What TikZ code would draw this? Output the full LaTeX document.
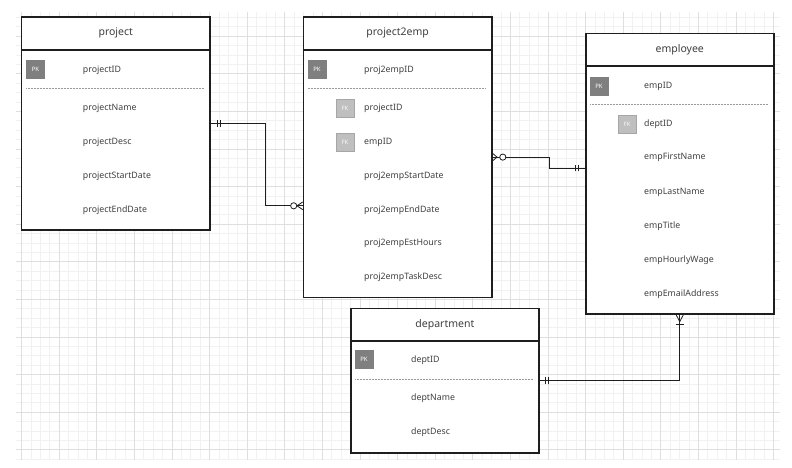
\documentclass[tikz,border=0pt]{standalone}
\usepackage{fontspec}
\setmainfont{Noto Sans}
\definecolor{txt}{HTML}{404040}
\definecolor{pkgray}{HTML}{7F7F7F}
\definecolor{fkgray}{HTML}{BFBFBF}
\definecolor{fkborder}{HTML}{A6A6A6}
\definecolor{gridminor}{HTML}{F1F1F1}
\definecolor{gridmajor}{HTML}{DFDFDF}
\definecolor{edge}{HTML}{1E1E1E}
\begin{document}
\begin{tikzpicture}[x=1pt,y=-1pt,
  tbl/.style={draw=edge, line width=1.5pt, fill=white, inner sep=0pt, anchor=north west},
  ttl/.style={font=\fontsize{10.5}{12}\selectfont, text=txt, inner sep=0pt},
  fld/.style={font=\fontsize{8.8}{10}\selectfont, text=txt, anchor=west, inner sep=0pt},
  pkbox/.style={fill=pkgray, minimum size=19pt, inner sep=0pt, text=white, font=\fontsize{6}{7}\selectfont\bfseries},
  fkbox/.style={fill=fkgray, draw=fkborder, line width=0.6pt, minimum size=18.4pt, inner sep=0pt, text=white!90!fkgray, font=\fontsize{6}{7}\selectfont\bfseries},
  hsep/.style={draw=edge, line width=1.5pt},
  dsep/.style={draw=gray!80, line width=0.5pt, densely dotted},
  conn/.style={draw=edge, line width=0.8pt},
  endmark/.style={draw=edge, line width=0.8pt},
  minorgrid/.style={draw=gridminor, line width=0.5pt},
  majorgrid/.style={draw=gridmajor, line width=0.6pt}
]
\useasboundingbox (0,0) rectangle (792,467);
\fill[white] (0,0) rectangle (792,467);
% grid
\begin{scope}
\clip (16,12) rectangle (780,460);
\foreach \i [evaluate=\i as \xx using 21.4+9.4*\i] in {0,...,80} {\draw[minorgrid] (\xx,12) -- (\xx,460);}
\foreach \j [evaluate=\j as \yy using 17.2+9.4*\j] in {0,...,47} {\draw[minorgrid] (16,\yy) -- (780,\yy);}
\foreach \i [evaluate=\i as \xx using 21.4+9.4*\i] in {0,4,...,80} {\draw[majorgrid] (\xx,12) -- (\xx,460);}
\foreach \j [evaluate=\j as \yy using 17.2+9.4*\j] in {2,6,...,46} {\draw[majorgrid] (16,\yy) -- (780,\yy);}
\end{scope}

% ---------- project ----------
\node[tbl, minimum width=188.6pt, minimum height=213pt] (project) at (20.7,16) {};
\draw[hsep] ([yshift=-34pt]project.north west) -- ([yshift=-34pt]project.north east);
\node[ttl] (projectT) at ([yshift=-17pt]project.north) {project};
\node[pkbox] (projectPK) at (35.5,69.5) {PK};
\node[fld] (projectF1) at (82.7,70) {projectID};
\draw[dsep] (26,88.3) -- (204,88.3);
\node[fld] (projectF2) at (82.7,108) {projectName};
\node[fld] (projectF3) at (82.7,142) {projectDesc};
\node[fld] (projectF4) at (82.7,176) {projectStartDate};
\node[fld] (projectF5) at (82.7,210) {projectEndDate};

% ---------- project2emp ----------
\node[tbl, minimum width=188.3pt, minimum height=280.7pt] (p2e) at (302.7,16) {};
\draw[hsep] ([yshift=-34pt]p2e.north west) -- ([yshift=-34pt]p2e.north east);
\node[ttl] (p2eT) at ([yshift=-17pt]p2e.north) {project2emp};
\node[pkbox] (p2ePK) at (317,69.5) {PK};
\node[fld] (p2eF1) at (364,70) {proj2empID};
\draw[dsep] (307.5,88.3) -- (486,88.3);
\node[fkbox] (p2eFK1) at (345,108) {FK};
\node[fld] (p2eF2) at (364,108) {projectID};
\node[fkbox] (p2eFK2) at (345,142) {FK};
\node[fld] (p2eF3) at (364,142) {empID};
\node[fld] (p2eF4) at (364,176) {proj2empStartDate};
\node[fld] (p2eF5) at (364,210) {proj2empEndDate};
\node[fld] (p2eF6) at (364,243.5) {proj2empEstHours};
\node[fld] (p2eF7) at (364,277.5) {proj2empTaskDesc};

% ---------- employee ----------
\node[tbl, minimum width=188pt, minimum height=280.6pt] (emp) at (585,32.7) {};
\draw[hsep] ([yshift=-33.3pt]emp.north west) -- ([yshift=-33.3pt]emp.north east);
\node[ttl] (empT) at ([yshift=-16.6pt]emp.north) {employee};
\node[pkbox] (empPK) at (599,86.7) {PK};
\node[fld] (empF1) at (644,86) {empID};
\draw[dsep] (590,104.3) -- (768,104.3);
\node[fkbox] (empFK1) at (627.2,124) {FK};
\node[fld] (empF2) at (644,124) {deptID};
\node[fld] (empF3) at (644,157.5) {empFirstName};
\node[fld] (empF4) at (644,192) {empLastName};
\node[fld] (empF5) at (644,226) {empTitle};
\node[fld] (empF6) at (644,260) {empHourlyWage};
\node[fld] (empF7) at (644,294) {empEmailAddress};

% ---------- department ----------
\node[tbl, minimum width=188.3pt, minimum height=144.3pt] (dept) at (350,307.7) {};
\draw[hsep] ([yshift=-33.3pt]dept.north west) -- ([yshift=-33.3pt]dept.north east);
\node[ttl] (deptT) at ([yshift=-16.6pt]dept.north) {department};
\node[pkbox] (deptPK) at (364,359.8) {PK};
\node[fld] (deptF1) at (411,360.7) {deptID};
\draw[dsep] (355,379.3) -- (533,379.3);
\node[fld] (deptF2) at (411,398.7) {deptName};
\node[fld] (deptF3) at (411,432.7) {deptDesc};

% ---------- connectors ----------
% project -> project2emp (one and only one -> zero or many)
\coordinate (p2eL) at ([yshift=-48.7pt]p2e.west);
\draw[conn] (project.east) -| ([xshift=-37.7pt]p2eL) -- (p2eL);
\draw[endmark] ([xshift=6.7pt,yshift=-3.3pt]project.east) -- ([xshift=6.7pt,yshift=3.3pt]project.east);
\draw[endmark] ([xshift=10pt,yshift=-3.3pt]project.east) -- ([xshift=10pt,yshift=3.3pt]project.east);
\draw[endmark, fill=white] ([xshift=-9pt]p2eL) circle (3.1pt);
\draw[endmark] ([xshift=-5.7pt]p2eL) -- ([yshift=3.8pt]p2eL);
\draw[endmark] ([xshift=-5.7pt]p2eL) -- ([yshift=-3.8pt]p2eL);

% project2emp -> employee (zero or many -> one and only one)
\coordinate (empL) at ([yshift=5.7pt]emp.west);
\draw[conn] (p2e.east) -- ([xshift=57pt]p2e.east) |- (empL);
\draw[endmark, fill=white] ([xshift=10.3pt]p2e.east) circle (3.1pt);
\draw[endmark] ([xshift=4.6pt]p2e.east) -- ([yshift=3.8pt]p2e.east);
\draw[endmark] ([xshift=4.6pt]p2e.east) -- ([yshift=-3.8pt]p2e.east);
\draw[endmark] ([xshift=-10pt,yshift=-3.3pt]empL) -- ([xshift=-10pt,yshift=3.3pt]empL);
\draw[endmark] ([xshift=-6.7pt,yshift=-3.3pt]empL) -- ([xshift=-6.7pt,yshift=3.3pt]empL);

% department -> employee (one and only one -> one or many)
\draw[conn] (dept.east) -| (emp.south);
\draw[endmark] ([xshift=5.7pt,yshift=-3.3pt]dept.east) -- ([xshift=5.7pt,yshift=3.3pt]dept.east);
\draw[endmark] ([xshift=9pt,yshift=-3.3pt]dept.east) -- ([xshift=9pt,yshift=3.3pt]dept.east);
\draw[endmark] ([yshift=-6.8pt]emp.south) -- ([xshift=-3.6pt]emp.south);
\draw[endmark] ([yshift=-6.8pt]emp.south) -- ([xshift=3.6pt]emp.south);
\draw[endmark] ([xshift=-3.8pt,yshift=-10pt]emp.south) -- ([xshift=3.8pt,yshift=-10pt]emp.south);
\end{tikzpicture}
\end{document}
